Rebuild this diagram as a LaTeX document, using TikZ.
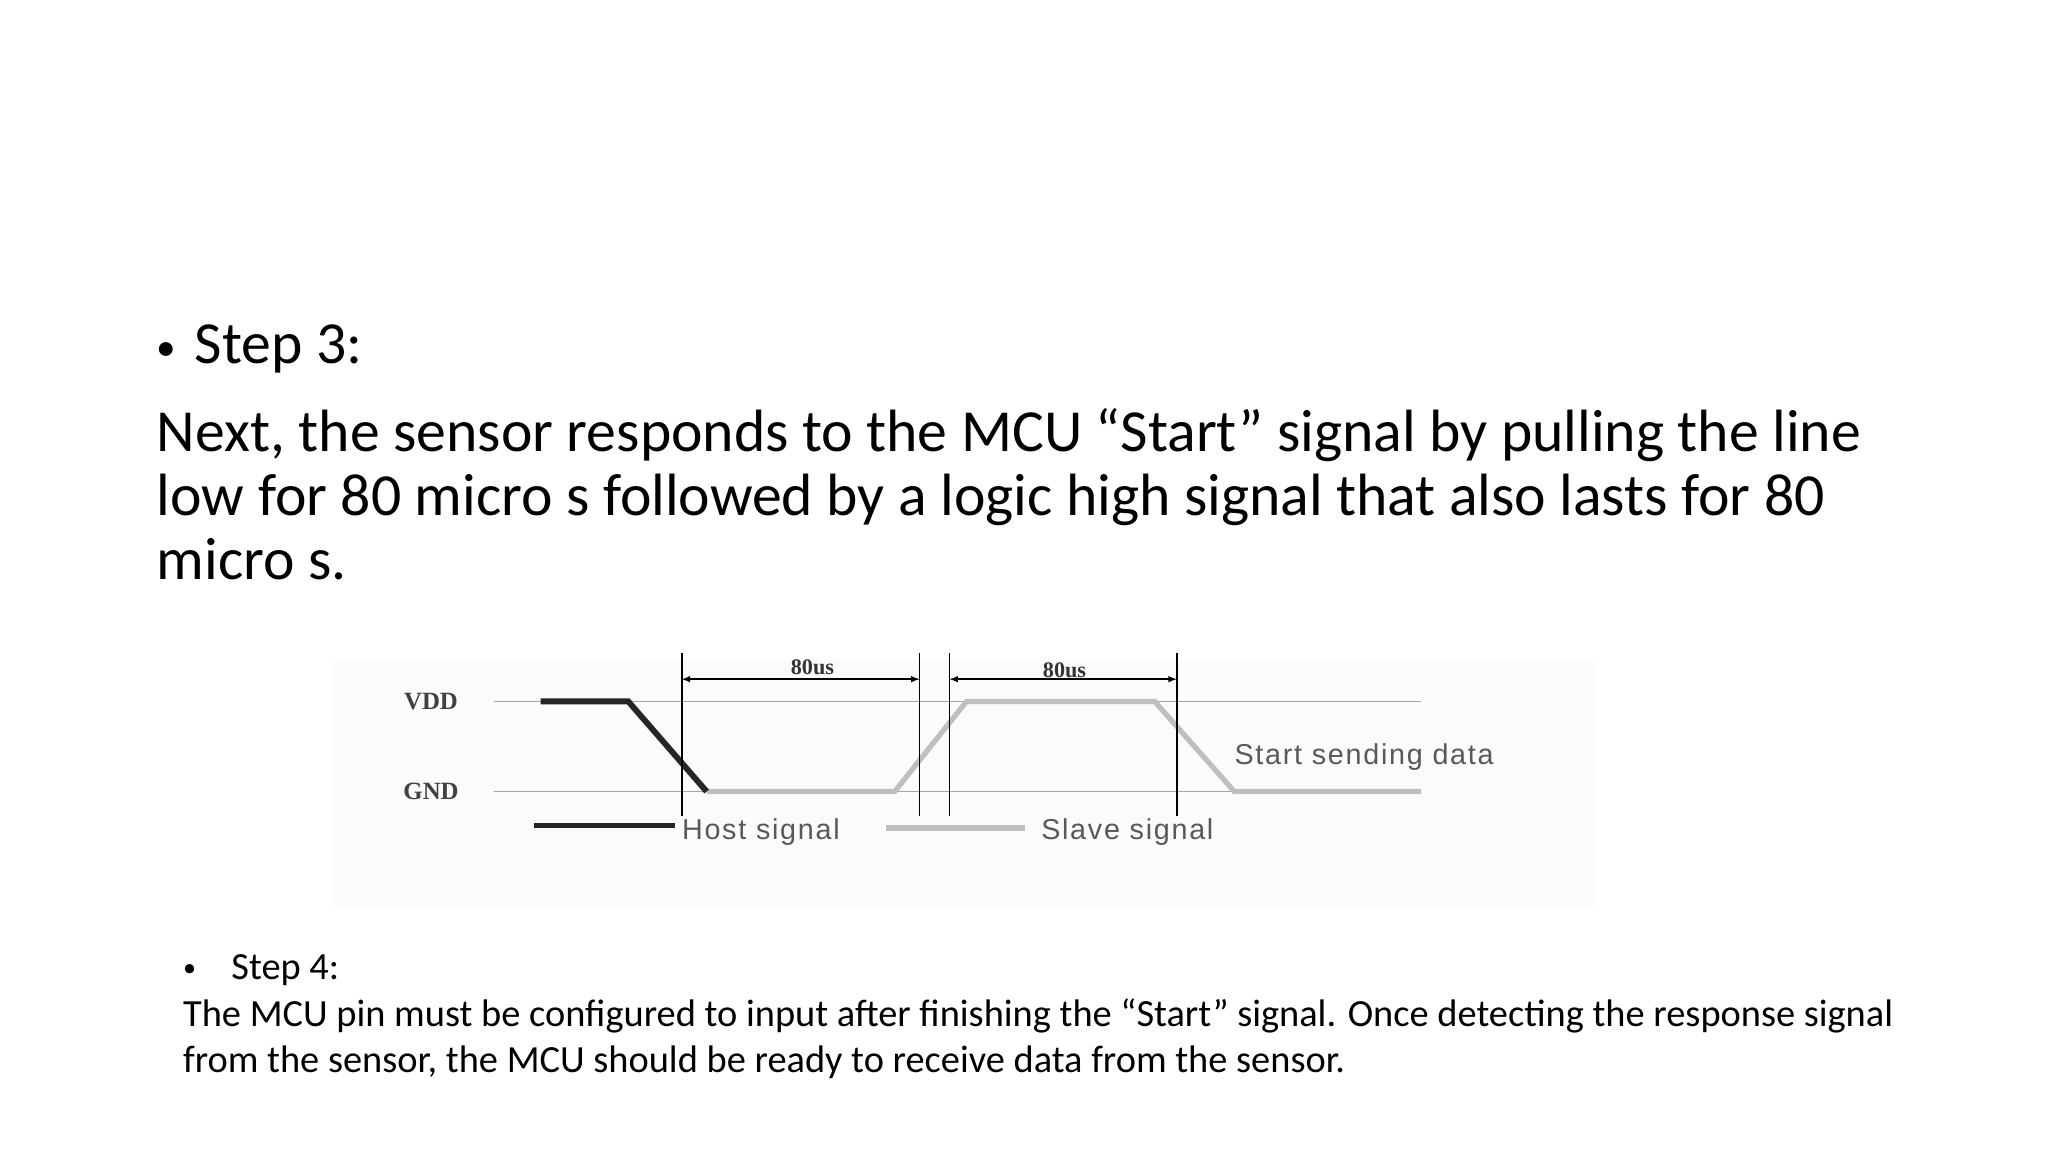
\documentclass[tikz,border=0pt]{standalone}
\usepackage{fontspec}
\setmainfont{Carlito}
\newfontfamily\legfont[LetterSpace=6]{Liberation Sans}
\newfontfamily\serfont{Liberation Serif}
\begin{document}
\begin{tikzpicture}[x=1pt,y=-1pt,
  big/.style={anchor=base west,inner sep=0pt,font=\fontsize{45.7}{49}\selectfont},
  small/.style={anchor=base west,inner sep=0pt,font=\fontsize{29.4}{35}\selectfont},
  lab/.style={inner sep=0pt,font=\legfont\fontsize{22}{24}\selectfont,text=black!65},
  rail/.style={gray!70,line width=1.2pt},
  vline/.style={black,line width=1.3pt},
  host/.style={black!85,line width=4.5pt},
  slave/.style={black!25,line width=4pt},
  dim/.style={black,line width=1.2pt,<->,>=latex}]
\useasboundingbox (0,0) rectangle (1568,882);
\fill[white] (0,0) rectangle (1568,882);
\fill[black!1.5] (255,505) rectangle (1222,695);
% text
\node[big,font=\fontsize{30}{30}\selectfont] (b3) at (120,276) {\textbullet};
\node[big] (s3) at (149,278) {Step 3:};
\node[big] (t1) at (120,346) {Next, the sensor responds to the MCU “Start” signal by pulling the line};
\node[big] (t2) at (120,395) {low for 80 micro s followed by a logic high signal that also lasts for 80};
\node[big] (t3) at (120,444) {micro s.};
\node[small,font=\fontsize{20}{20}\selectfont] (b4) at (140,748) {\textbullet};
\node[small] (s4) at (177,750) {Step 4:};
\node[small] (u1) at (140,786) {The MCU pin must be configured to input after finishing the “Start” signal. Once detecting the response signal};
\node[small] (u2) at (140,821) {from the sensor, the MCU should be ready to receive data from the sensor.};
% diagram
\node[font=\serfont\bfseries\fontsize{19}{20}\selectfont,text=black!75] (vdd) at (330,537) {VDD};
\node[font=\serfont\bfseries\fontsize{19}{20}\selectfont,text=black!75] (gnd) at (330,606) {GND};
\coordinate (v0) at (378,537); \coordinate (v1) at (1088,537);
\coordinate (g0) at (378,606); \coordinate (g1) at (1088,606);
\draw[rail] (v0) -- (v1);
\draw[rail] (g0) -- (g1);
\draw[slave] (541,606) -- (685,606) -- (740,537) -- (884,537) -- (945,606) -- (1088,606);
\draw[host] (414,537) -- (481,537) -- (541,606);
\foreach \x/\n in {522/a,704/b,727/c,901/d}{
  \coordinate (\n t) at (\x,500); \coordinate (\n b) at (\x,625);
  \draw[vline] (\n t) -- (\n b);
  \coordinate (\n m) at (\x,520);}
\draw[dim] (am) -- (bm);
\draw[dim] (cm) -- (dm);
\node[font=\serfont\bfseries\fontsize{17}{18}\selectfont,text=black!80] (l1) at (622,511) {80us};
\node[font=\serfont\bfseries\fontsize{17}{18}\selectfont,text=black!80] (l2) at (815,513) {80us};
\node[lab,anchor=west] (sd) at (945,580) {Start sending data};
\draw[host] (409,632) -- (517,632);
\node[lab,anchor=west] (hs) at (522,637) {Host signal};
\draw[slave] (678,634) -- (785,634);
\node[lab,anchor=west] (ss) at (797,637) {Slave signal};
\end{tikzpicture}
\end{document}
